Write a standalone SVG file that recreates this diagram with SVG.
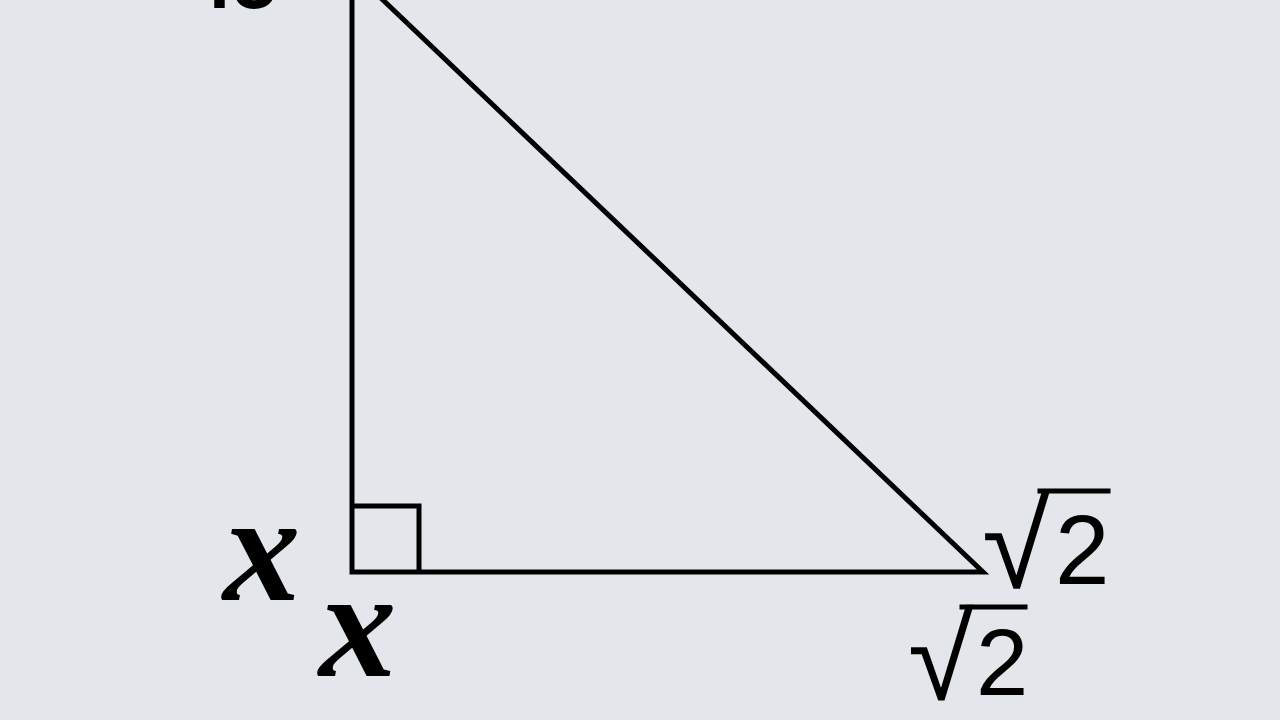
<svg xmlns="http://www.w3.org/2000/svg" width="1280" height="720" viewBox="0 0 1280 720">
<style>
.ln{stroke:#000;stroke-width:5;fill:none;stroke-linecap:square;stroke-linejoin:miter}
.var{font-family:"Liberation Serif",serif;font-style:italic;font-weight:bold;fill:#000}
.num{font-family:"Liberation Sans",sans-serif;fill:#000}
</style>
<rect width="1280" height="720" fill="#e3e6ea"/>
<g id="triangle">
<polyline class="ln" points="352,-20 352,572 983,572 362,-20"/>
<polyline class="ln" points="354,506 419,506 419,570"/>
</g>
<g id="angle-label"><text class="num" x="188" y="8" font-size="80" font-weight="bold">45</text></g>
<g id="label-x-left"><text class="var" x="223" y="600" font-size="155">x</text></g>
<g id="label-x-bottom"><text class="var" x="319" y="676" font-size="155">x</text></g>
<g id="label-sqrt2-right">
<text class="num" x="982" y="588" font-size="125">√</text>
<text class="num" x="1055" y="584" font-size="98">2</text>
<line class="ln" x1="1040" y1="491" x2="1108" y2="491" stroke-linecap="butt"/>
</g>
<g id="label-sqrt2-bottom">
<text class="num" x="908" y="700" font-size="120">√</text>
<text class="num" x="976" y="695" font-size="94">2</text>
<line class="ln" x1="962" y1="607" x2="1025" y2="607" stroke-linecap="butt"/>
</g>
</svg>
